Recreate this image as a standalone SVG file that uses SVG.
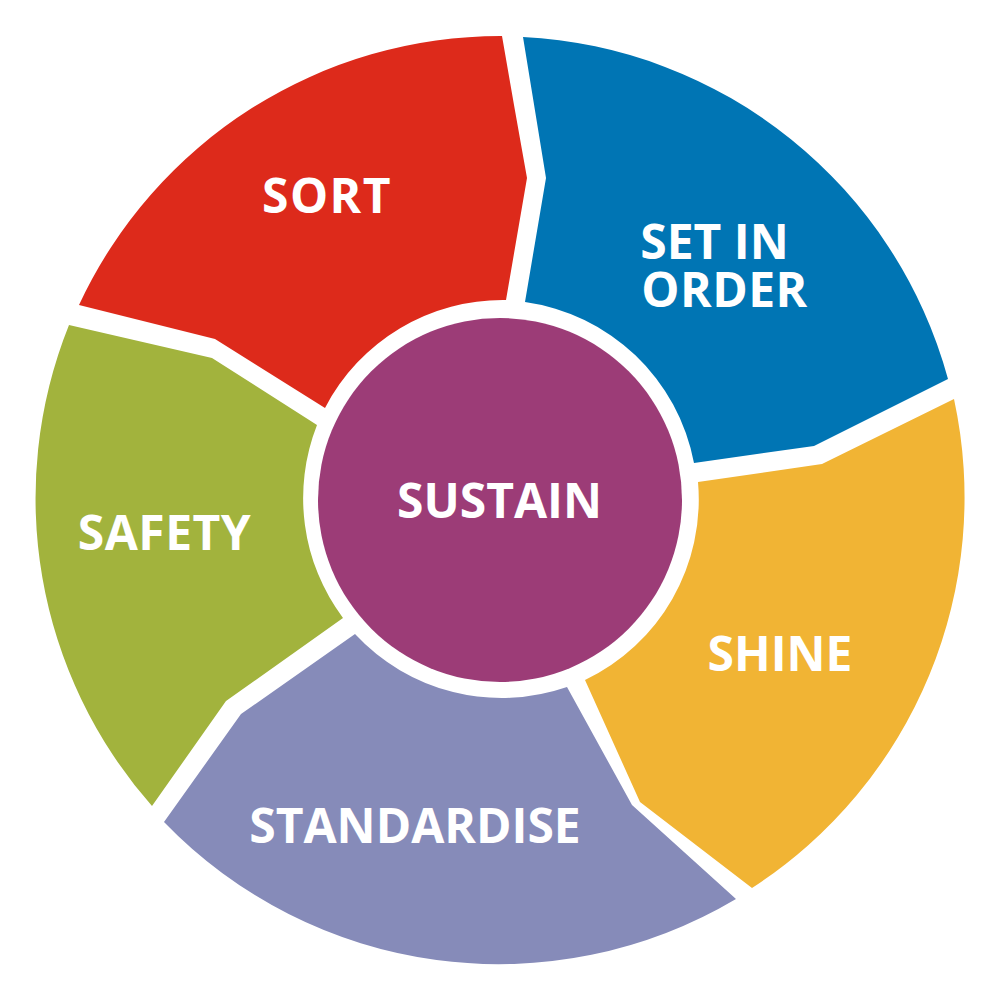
<svg xmlns="http://www.w3.org/2000/svg" width="1000" height="1000" viewBox="0 0 1000 1000">
<style>
text{font-family:"Open Sans","Noto Sans","Liberation Sans",sans-serif;font-weight:700;font-size:48px;fill:#fff;text-anchor:middle}
</style>
<rect width="1000" height="1000" fill="#fff"/>
<g id="sort"><path d="M502 36 L514 105 L527 178 L506 300 A200 200 0 0 0 325 408 L215 339 L79 305 A465 465 0 0 1 502 36 Z" fill="#dd2a1b"/><text x="327" y="213" letter-spacing="1.5">SORT</text></g>
<g id="set-in-order"><path d="M523 37 A465 465 0 0 1 948 379 L814 446 L694 463 A200 200 0 0 0 525 302 L546 178 Z" fill="#0075b4"/><text x="714.500" y="259">SET IN</text><text x="724.500" y="307" letter-spacing="0.500">ORDER</text></g>
<g id="shine"><path d="M954 399 A465 465 0 0 1 752 888 L640 802 L585 680 A200 200 0 0 0 698 482 L822 464 Z" fill="#f1b434"/><text x="780" y="671">SHINE</text></g>
<g id="standardise"><path d="M736 899 A465 465 0 0 1 164 822 L241 714 L355 634 A200 200 0 0 0 567 687 L632 805 Z" fill="#868bb9"/><text x="415" y="843">STANDARDISE</text></g>
<g id="safety"><path d="M152 806 A465 465 0 0 1 69 325 L212 358 L317 425 A200 200 0 0 0 343 618 L226 701 Z" fill="#a2b33d"/><text x="164.500" y="550" letter-spacing="0.500">SAFETY</text></g>
<g id="sustain"><circle cx="500" cy="500" r="182" fill="#9c3c77"/><text x="499.500" y="518">SUSTAIN</text></g>
</svg>
